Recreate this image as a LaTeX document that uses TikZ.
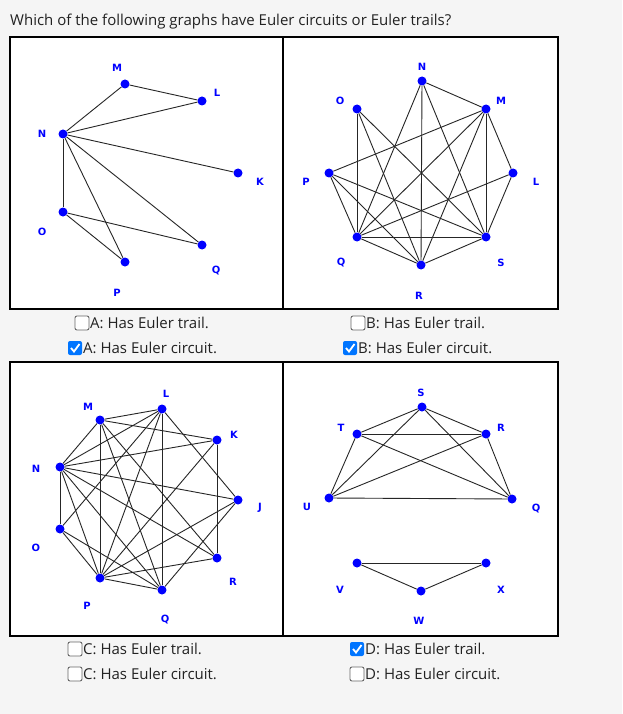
\documentclass[tikz,border=0pt]{standalone}
\usepackage{fontspec}
\setmainfont{Open Sans}
\newfontfamily\lbl{DejaVu Sans}
\begin{document}
\begin{tikzpicture}[x=1pt,y=-1pt,
  v/.style={circle,fill={rgb,255:red,0;green,0;blue,255},inner sep=0pt,minimum size=9pt},
  lb/.style={text={rgb,255:red,0;green,0;blue,255},font=\lbl\bfseries\fontsize{10}{10}\selectfont,inner sep=0pt},
  ed/.style={draw=black!85,line width=0.9pt},
  q/.style={anchor=west,inner sep=0pt,text={rgb,255:red,34;green,34;blue,34},font=\fontsize{15}{17}\selectfont},
  box/.style={draw=black!60,line width=0.9pt,rounded corners=2pt,fill=white},
  cbox/.style={fill={rgb,255:red,0;green,117;blue,255},rounded corners=2pt}]
\fill[black!4] (0,0) rectangle (622,714);
\useasboundingbox (0,0) rectangle (622,714);
\node[q] (title) at (10,22) {Which of the following graphs have Euler circuits or Euler trails?};
\fill[white] (10,37) rectangle (558,309);
\fill[white] (10,362) rectangle (558,636);
\draw[line width=1.6pt] (10,37) rectangle (558,309) (283,37) -- (283,309);
\draw[line width=1.6pt] (10,362) rectangle (558,636) (283,362) -- (283,636);
% checkbox macro
\newcommand\ucb[2]{\draw[box] (#1,#2-7) rectangle (#1+14,#2+7);}
\newcommand\ccb[2]{\fill[cbox] (#1,#2-7) rectangle (#1+14,#2+7);
  \draw[white,line width=1.8pt] (#1+3,#2) -- (#1+6,#2+3.5) -- (#1+11.5,#2-4);}
% Panel A
\foreach \n/\x/\y in {aM/125/84, aL/202/101, aN/63/134, aK/238/173, aO/63/212, aQ/202/245, aP/125/262}
  {\node[v] (\n) at (\x,\y) {};}
\node[lb] (aMl) at (117,68) {M}; \node[lb] (aLl) at (217,93) {L}; \node[lb] (aNl) at (42,134) {N};
\node[lb] (aKl) at (260,182) {K}; \node[lb] (aOl) at (42,232) {O}; \node[lb] (aQl) at (216,271) {Q}; \node[lb] (aPl) at (117,293) {P};
\foreach \a/\b in {aM/aL,aN/aM,aN/aL,aN/aK,aN/aO,aN/aP,aN/aQ,aO/aP,aO/aQ} \draw[ed] (\a) -- (\b);
% Panel B
\foreach \n/\x/\y in {bN/422/81, bM/486/109, bO/357/109, bP/329/173, bL/513/173, bQ/357/237, bS/486/237, bR/421/265}
  {\node[v] (\n) at (\x,\y) {};}
\node[lb] (bNl) at (422,67) {N}; \node[lb] (bMl) at (501,101) {M}; \node[lb] (bOl) at (340,101) {O}; \node[lb] (bPl) at (306,182) {P};
\node[lb] (bLl) at (536,182) {L}; \node[lb] (bQl) at (341,263) {Q}; \node[lb] (bSl) at (501,263) {S}; \node[lb] (bRl) at (419,296) {R};
\foreach \a/\b in {bN/bM,bN/bQ,bN/bR,bN/bS,bO/bQ,bO/bR,bO/bS,bM/bP,bM/bQ,bM/bR,bM/bS,bM/bL,bP/bQ,bP/bR,bP/bS,bL/bQ,bL/bS,bQ/bS,bQ/bR,bR/bS} \draw[ed] (\a) -- (\b);
% Panel C
\foreach \n/\x/\y in {cM/100/420, cL/162/409, cK/217/440, cN/60/467, cJ/238/500, cO/60/529, cR/217/558, cP/100/578, cQ/162/590}
  {\node[v] (\n) at (\x,\y) {};}
\node[lb] (cMl) at (88,407) {M}; \node[lb] (cLl) at (166,394) {L}; \node[lb] (cKl) at (234,435) {K}; \node[lb] (cNl) at (36,469) {N};
\node[lb] (cJl) at (260,508) {J}; \node[lb] (cOl) at (36,548) {O}; \node[lb] (cRl) at (233,582) {R}; \node[lb] (cPl) at (87,606) {P}; \node[lb] (cQl) at (165,620) {Q};
\foreach \a/\b in {cM/cL,cM/cK,cM/cN,cM/cP,cM/cQ,cM/cR,cL/cN,cL/cO,cL/cP,cL/cQ,cL/cJ,cK/cN,cK/cR,cK/cP,cN/cJ,cN/cO,cN/cP,cN/cQ,cN/cR,cJ/cP,cJ/cQ,cR/cP,cP/cO,cP/cQ,cQ/cO} \draw[ed] (\a) -- (\b);
% Panel D
\foreach \n/\x/\y in {dS/422/407, dT/357/434, dR/486/434, dU/329/498, dQ/512/499, dV/357/563, dX/486/563, dW/421/591}
  {\node[v] (\n) at (\x,\y) {};}
\node[lb] (dSl) at (421,393) {S}; \node[lb] (dTl) at (341,428) {T}; \node[lb] (dRl) at (501,428) {R}; \node[lb] (dUl) at (307,507) {U};
\node[lb] (dQl) at (536,509) {Q}; \node[lb] (dVl) at (340,590) {V}; \node[lb] (dXl) at (501,590) {X}; \node[lb] (dWl) at (419,621) {W};
\foreach \a/\b in {dS/dT,dS/dR,dS/dU,dS/dQ,dT/dR,dT/dU,dT/dQ,dR/dU,dR/dQ,dU/dQ,dV/dX,dV/dW,dW/dX} \draw[ed] (\a) -- (\b);
% answers
\ucb{75}{323} \node[q] (a1) at (90,323) {A: Has Euler trail.};
\ccb{68}{348} \node[q] (a2) at (83,348) {A: Has Euler circuit.};
\ucb{351}{323} \node[q] (b1) at (366,323) {B: Has Euler trail.};
\ccb{343}{348} \node[q] (b2) at (358,348) {B: Has Euler circuit.};
\ucb{68}{649} \node[q] (c1) at (83,649) {C: Has Euler trail.};
\ucb{68}{674} \node[q] (c2) at (83,674) {C: Has Euler circuit.};
\ccb{350}{649} \node[q] (d1) at (365,649) {D: Has Euler trail.};
\ucb{350}{674} \node[q] (d2) at (365,674) {D: Has Euler circuit.};
\end{tikzpicture}
\end{document}
